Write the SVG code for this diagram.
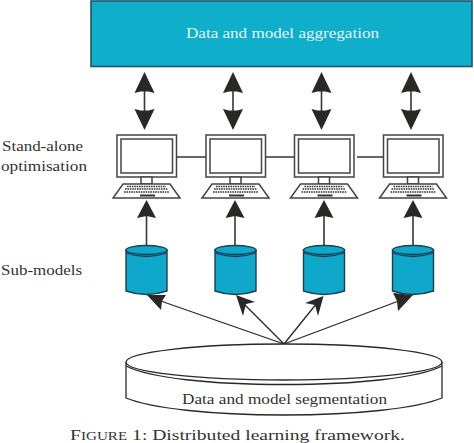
<svg xmlns="http://www.w3.org/2000/svg" xmlns:xlink="http://www.w3.org/1999/xlink" width="474" height="443" viewBox="0 0 474 443">
<style>
.t{font-family:"Liberation Serif","Times New Roman",serif;fill:#333;font-size:15px}
.ln{stroke:#3a3636;fill:none;stroke-width:1.6}
.fan{stroke:#2b2726;fill:none;stroke-width:1.3}
.scr{fill:#fff;stroke:#444;stroke-width:1.5}
.cyl{fill:#10a8ca;stroke:#1d3f4f;stroke-width:1.4}
.head{fill:#2b2726}
.key{stroke:#333;stroke-width:1.6;stroke-dasharray:1.6 .8;fill:none}
</style>
<defs>
<g id="pc">
<rect class="scr" x="0" y="0" width="59.5" height="42"/>
<rect class="scr" x="4" y="4" width="51.5" height="34"/>
<rect class="scr" x="24" y="42" width="11" height="7"/>
<path class="scr" d="M6 49H53L63 63H-4Z"/>
<path class="key" d="M10 51.5H49M8 54H51"/>
<path d="M7 57H52" class="key"/>
<path d="M23 60.5H38" stroke="#333" stroke-width="2"/>
</g>
<g id="db">
<path class="cyl" d="M0 4V45Q20.500 52 41 45V4Z"/>
<ellipse class="cyl" cx="20.500" cy="4" rx="20.500" ry="4.500"/>
<path d="M0 7Q20.500 14 41 7" fill="none" stroke="#1d3f4f" stroke-width="1.300"/>
</g>
<path id="dbl" class="head" d="M0 0L10 21L4 19.500H-4L-10 21Z"/>
</defs>
<rect width="474" height="443" fill="#fff"/>

<g id="aggregation">
<rect x="91" y="1" width="381" height="65.500" fill="#0faecb" stroke="#1c5566" stroke-width="1.600"/>
<text class="t" x="186" y="37.500" textLength="193" lengthAdjust="spacingAndGlyphs" style="fill:#e2f5f8">Data and model aggregation</text>
</g>

<g id="connectors">
<g id="sync-arrows">
<path class="ln" d="M144.500 88V112M233 88V112M321.500 88V112M411 88V112"/>
<use xlink:href="#dbl" href="#dbl" x="144.500" y="72"/>
<use xlink:href="#dbl" href="#dbl" x="233" y="72"/>
<use xlink:href="#dbl" href="#dbl" x="321.500" y="72"/>
<use xlink:href="#dbl" href="#dbl" x="411" y="72"/>
<use xlink:href="#dbl" href="#dbl" transform="translate(144.500 130) scale(1 -1)"/>
<use xlink:href="#dbl" href="#dbl" transform="translate(233 130) scale(1 -1)"/>
<use xlink:href="#dbl" href="#dbl" transform="translate(321.500 130) scale(1 -1)"/>
<use xlink:href="#dbl" href="#dbl" transform="translate(411 130) scale(1 -1)"/>
</g>
<path class="ln" d="M177 157H206M266 157H295M357 157H388"/>
<path class="ln" d="M146.500 212V246M235 212V246M324 212V246M413 212V246"/>
<path class="head" d="M146.500 200L156 218L146.500 216L137 218Z"/>
<path class="head" d="M235 200L244.500 218L235 216L225.500 218Z"/>
<path class="head" d="M324 200L333.500 218L324 216L314.500 218Z"/>
<path class="head" d="M413 200L422.500 218L413 216L403.500 218Z"/>
<path class="fan" d="M284 344L155 299M284 344L243 303M284 344L317 303M284 344L404 299"/>
<path class="head" d="M147 295L166 295L162 301L161 310Z"/>
<path class="head" d="M236 295L255 302L246 304L243 316Z"/>
<path class="head" d="M323.500 296L318 316L315 305L305 303Z"/>
<path class="head" d="M413 295L393 293L397 301L398 311Z"/>
</g>

<g id="pc1"><use xlink:href="#pc" href="#pc" x="117" y="135"/></g>
<g id="pc2"><use xlink:href="#pc" href="#pc" x="206" y="135"/></g>
<g id="pc3"><use xlink:href="#pc" href="#pc" x="294.500" y="135"/></g>
<g id="pc4"><use xlink:href="#pc" href="#pc" x="383.500" y="135"/></g>

<g id="db1"><use xlink:href="#db" href="#db" x="126" y="246"/></g>
<g id="db2"><use xlink:href="#db" href="#db" x="215" y="246"/></g>
<g id="db3"><use xlink:href="#db" href="#db" x="303.500" y="246"/></g>
<g id="db4"><use xlink:href="#db" href="#db" x="392.500" y="246"/></g>

<g id="segmentation">
<path d="M126 362V398C150 408 210 415 284 415S418 408 442 398V362" fill="#fff" stroke="#2b2726" stroke-width="1.300"/>
<ellipse cx="284" cy="362" rx="158" ry="18" fill="#fff" stroke="#2b2726" stroke-width="1.300"/>
<path d="M126 366C150 378 210 384.500 284 384.500S418 378 442 366" fill="none" stroke="#2b2726" stroke-width="1.300"/>
<text class="t" x="182" y="404" textLength="205" lengthAdjust="spacingAndGlyphs">Data and model segmentation</text>
</g>

<text class="t" x="2" y="151" textLength="81" lengthAdjust="spacingAndGlyphs">Stand-alone</text>
<text class="t" x="1" y="171" textLength="86" lengthAdjust="spacingAndGlyphs">optimisation</text>
<text class="t" x="1" y="275" textLength="81" lengthAdjust="spacingAndGlyphs">Sub-models</text>
<text class="t" x="70" y="439.500" style="font-size:15.500px" textLength="335" lengthAdjust="spacingAndGlyphs">F<tspan style="font-size:12px">IGURE</tspan> 1: Distributed learning framework.</text>
</svg>
